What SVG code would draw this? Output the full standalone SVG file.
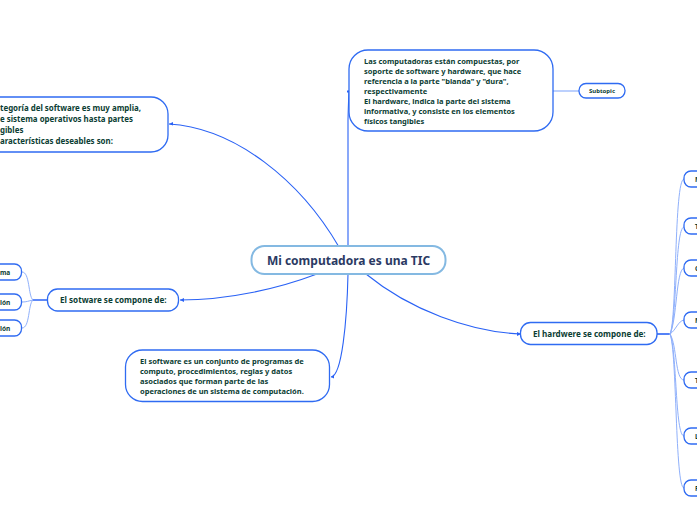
<svg xmlns="http://www.w3.org/2000/svg" width="697" height="520" viewBox="0 0 697 520">
<style>
text{font-family:"Noto Sans","DejaVu Sans",sans-serif;font-weight:700;fill:#0b3d33}
.n{fill:#fff;stroke:#2f6bf2;stroke-width:1.3}
.c{fill:none;stroke:#2a62f5;stroke-width:1.1}
.s{fill:none;stroke:#8fb0fb;stroke-width:1}
.t{font-size:7.900px}
.b{font-size:7.500px}
.m{font-size:8.100px}
.x{font-size:6px}
.e{font-size:6.500px}
.h{fill:#2a62f5}
</style>
<rect width="697" height="520" fill="#fff"/>
<g id="connectors">
<path class="c" d="M339 247C300 180 235 128 169 124"/>
<path class="h" d="M169 124l4-2v3.500z"/>
<path class="c" d="M317 274C280 288 230 300 180 300"/>
<path class="h" d="M180 300l4-2v4z"/>
<path class="c" d="M348 274C347 320 342 376 331 377"/>
<path class="h" d="M331 377l3-2.500v4z"/>
<path class="c" d="M348 246V120C348.500 100 349 90 349 91"/>
<path class="h" d="M347 90.500h3v2h-3z"/>
<path class="c" d="M366 274C410 310 470 332 521 334"/>
<path class="h" d="M521 334l-4-2v4z"/>
<path class="s" d="M553 91H579" style="stroke-width:1.2"/>
<path class="c" d="M657 334H670" style="stroke-width:1.600"/>
<path class="s" d="M670 334C677 320 674 180 684 179"/>
<path class="s" d="M670 334C677 320 675 228 684 227"/>
<path class="s" d="M670 334C677 320 676 270 684 268"/>
<path class="s" d="M670 334C676 330 678 321 684 320"/>
<path class="s" d="M670 334C677 345 675 380 684 380"/>
<path class="s" d="M670 334C677 350 675 436 684 436"/>
<path class="s" d="M670 334C677 350 675 488 684 488"/>
<path class="c" d="M33 300H47" style="stroke-width:1.500"/>
<path class="s" d="M33 300C28 296 30 272 22 272"/>
<path class="s" d="M33 300C28 301 27 302 22 302"/>
<path class="s" d="M33 300C28 304 30 328 22 328"/>
</g>
<g id="root"><rect x="251.500" y="246" width="194" height="28" rx="13" fill="#fff" stroke="#84b9e2" stroke-width="2"/><text x="348.500" y="265" text-anchor="middle" style="font-size:12px;fill:#2b3a63">Mi computadora es una TIC</text></g>
<g id="categoria"><rect x="-40" y="97" width="208" height="55" rx="17" class="n"/><text class="t" y="111"><tspan x="0">tegoría del software es muy amplia,</tspan><tspan x="0" dy="11">e sistema operativos hasta partes</tspan><tspan x="0" dy="11">gibles</tspan><tspan x="0" dy="11">aracterísticas deseables son:</tspan></text></g>
<g id="compuestas"><rect x="349" y="50" width="204" height="81" rx="19" class="n"/><text class="b" y="64"><tspan x="364">Las computadoras están compuestas, por</tspan><tspan x="364" dy="10">soporte de software y hardware, que hace</tspan><tspan x="364" dy="10">referencia a la parte "blanda" y "dura",</tspan><tspan x="364" dy="10">respectivamente</tspan><tspan x="364" dy="10">El hardware, indica la parte del sistema</tspan><tspan x="364" dy="10">informativa, y consiste en los elementos</tspan><tspan x="364" dy="10">físicos tangibles</tspan></text></g>
<g id="subtopic"><rect x="579" y="83.500" width="46" height="14.500" rx="7" class="n"/><text class="x" x="602" y="93" text-anchor="middle">Subtopic</text></g>
<g id="sotware"><rect x="47.500" y="289" width="131" height="22" rx="10" class="n"/><text class="m" x="60" y="303">El sotware se compone de:</text></g>
<g id="conjunto"><rect x="125.500" y="350" width="204" height="51.500" rx="17" class="n"/><text class="b" y="364"><tspan x="140">El software es un conjunto de programas de</tspan><tspan x="140" dy="10">computo, procedimientos, reglas y datos</tspan><tspan x="140" dy="10">asociados que forman parte de las</tspan><tspan x="140" dy="10">operaciones de un sistema de computación.</tspan></text></g>
<g id="hardware"><rect x="520.500" y="322.500" width="136.500" height="22" rx="10" class="n"/><text class="m" x="533" y="337">El hardwere se compone de:</text></g>
<g id="l1"><rect x="-20" y="264" width="41.500" height="16" rx="7" class="n"/><text class="e" x="0" y="274.500">ma</text></g>
<g id="l2"><rect x="-20" y="294" width="41.500" height="16" rx="7" class="n"/><text class="e" x="0" y="304.500">ión</text></g>
<g id="l3"><rect x="-20" y="320" width="41.500" height="16" rx="7" class="n"/><text class="e" x="0" y="330.500">ión</text></g>
<g id="r1"><rect x="684" y="171" width="40" height="16" rx="7" class="n"/><text class="e" x="695" y="181.500">M</text></g>
<g id="r2"><rect x="684" y="218" width="40" height="16" rx="7" class="n"/><text class="e" x="695" y="229">T</text></g>
<g id="r3"><rect x="684" y="260" width="40" height="16" rx="7" class="n"/><text class="e" x="695" y="271">C</text></g>
<g id="r4"><rect x="684" y="312" width="40" height="16" rx="7" class="n"/><text class="e" x="695" y="322.500">M</text></g>
<g id="r5"><rect x="684" y="372" width="40" height="16" rx="7" class="n"/><text class="e" x="695" y="382.500">T</text></g>
<g id="r6"><rect x="684" y="428" width="40" height="16" rx="7" class="n"/><text class="e" x="695" y="438.500">L</text></g>
<g id="r7"><rect x="684" y="480" width="40" height="16" rx="7" class="n"/><text class="e" x="695" y="490.500">F</text></g>
</svg>
